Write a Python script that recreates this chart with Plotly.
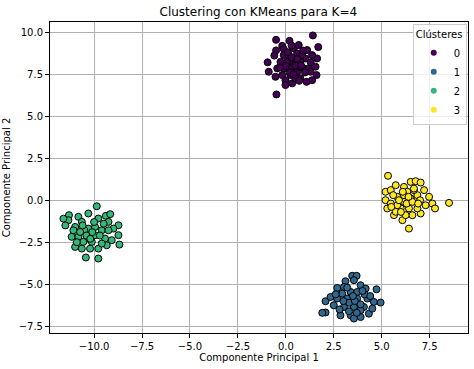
import plotly.graph_objects as go

title = "Clustering con KMeans para K=4"
xlabel = "Componente Principal 1"
ylabel = "Componente Principal 2"
legend_title = "Clústeres"
cluster_names = ["0", "1", "2", "3"]
colors = ["#440154", "#31688e", "#35b779", "#fde725"]

x0 = [-0.51, 0.19, 1.41, 1.69, -0.51, -0.19, -0.11, -0.95, -0.89, -0.45, -0.49, -0.54, -0.11, 0.41, 0.67,
      1.11, 1.02, 1.63, 1.55, 1.60, 1.37, 1.08, 0.76, -0.02, -0.02, 0.33, 0.24, 0.59, 0.94, -0.11, 0.07,
      0.41, 0.76, 1.20, 0.41, 0.15, 0.59, 0.85, -0.28, 0.24, 0.67, 1.37, -0.19, 0.50, 1.29,
      0.3, 0.5, 0.0, 0.8, 0.2, 0.6, -0.3, 1.0, 0.4, 0.9, 0.3, -0.6, 1.3, 0.1, 0.7]
y0 = [9.54, 9.48, 9.80, 9.11, 8.91, 9.18, 8.99, 8.20, 7.64, 7.84, 6.29, 7.34, 8.63, 9.03, 9.23,
      8.93, 8.43, 8.43, 7.94, 7.44, 7.14, 7.04, 7.24, 7.14, 6.85, 6.95, 7.44, 7.64, 7.84, 7.84, 8.23,
      8.43, 8.23, 7.84, 8.04, 8.63, 8.73, 8.63, 8.23, 7.84, 7.94, 8.63, 7.44, 7.24, 7.64,
      8.5, 8.0, 8.0, 8.0, 7.6, 8.4, 7.9, 7.6, 7.5, 8.9, 9.2, 8.6, 8.2, 8.8, 7.1]

x1 = [3.46, 3.69, 3.11, 3.55, 2.68, 3.03, 3.90, 4.16, 4.73, 2.07, 2.33, 2.07, 2.85, 3.38, 3.90, 4.33,
      4.94, 4.59, 4.25, 3.72, 3.20, 2.68, 2.50, 3.03, 3.55, 4.07, 4.51, 3.38, 3.72, 2.94, 3.90, 3.29, 3.55,
      1.9, 3.3, 3.6, 3.9, 4.1, 3.0, 3.5, 2.8, 4.4, 3.2, 3.7, 4.0, 2.6]
y1 = [-4.50, -4.50, -4.82, -4.76, -5.22, -5.16, -5.06, -5.26, -5.30, -6.01, -5.76, -6.68, -6.85, -6.85,
      -6.95, -6.75, -6.09, -6.05, -5.85, -5.85, -5.85, -5.85, -6.25, -6.35, -6.35, -6.35, -6.45, -5.46,
      -5.46, -5.56, -6.55, -6.61, -7.04,
      -6.7, -6.1, -6.0, -6.2, -5.6, -6.0, -5.7, -6.5, -5.7, -5.2, -6.7, -5.4, -5.6]

x2 = [-9.86, -11.31, -11.34, -10.82, -10.30, -9.78, -9.39, -9.16, -9.25, -8.73, -8.99, -8.73, -8.68,
      -9.34, -9.78, -10.43, -10.99, -11.17, -10.64, -10.21, -9.78, -9.43, -9.95, -10.30, -10.64, -10.99,
      -10.82, -10.38, -9.95, -9.60, -9.25, -10.56, -10.12, -9.60, -9.08, -11.08, -10.51, -10.73,
      -11.6, -11.5, -10.1, -10.4, -9.7, -10.9, -10.0, -9.5, -10.6, -10.2]
y2 = [-0.36, -0.89, -1.19, -0.99, -0.79, -1.09, -0.93, -0.83, -1.29, -1.49, -1.69, -2.08, -2.64, -2.68,
      -3.47, -3.41, -2.78, -2.18, -2.88, -2.88, -2.88, -2.28, -2.08, -1.69, -1.29, -1.59, -2.18, -2.28,
      -1.59, -1.79, -1.79, -2.48, -2.48, -2.58, -2.38, -1.79, -1.79, -1.89,
      -1.1, -1.5, -1.9, -2.1, -2.1, -2.5, -1.3, -1.4, -1.5, -2.3]

x3 = [5.33, 8.51, 6.42, 5.20, 5.47, 5.73, 6.16, 6.51, 6.77, 7.03, 7.21, 7.47, 7.64, 7.78, 7.29, 7.03,
      6.60, 6.08, 5.64, 5.29, 5.20, 5.81, 6.16, 6.51, 6.86, 6.34, 6.68, 5.99, 6.42, 6.86, 5.47, 5.81,
      5.73, 6.25, 6.68, 6.16,
      5.9, 6.3, 6.0, 5.6, 6.6, 7.0, 6.4, 5.5, 6.1, 6.9]
y3 = [1.45, -0.16, -1.69, 0.50, 0.60, 0.89, 0.79, 1.09, 1.13, 1.05, 0.60, 0.20, -0.20, -0.49, -0.30,
      -0.79, -0.89, -1.19, -0.89, -0.49, 0.00, 0.20, -0.10, 0.10, 0.30, 0.50, 0.60, -0.49, -0.49, -0.49,
      -0.20, -0.30, -0.69, -0.89, 0.69, 0.30,
      0.0, -0.2, -0.7, 0.3, -0.1, 0.0, 0.2, -0.4, 0.5, -0.2]

xs = [x0, x1, x2, x3]
ys = [y0, y1, y2, y3]

fig = go.Figure()
for name, c, xv, yv in zip(cluster_names, colors, xs, ys):
    fig.add_trace(go.Scatter(
        x=xv, y=yv, mode="markers", name=name, showlegend=False,
        marker=dict(color=c, size=7, line=dict(color="black", width=1)),
    ))
# legend entries (small plain dots, like the reference legend)
for name, c in zip(cluster_names, colors):
    fig.add_trace(go.Scatter(
        x=[None], y=[None], mode="markers", name=name, showlegend=True,
        marker=dict(color=c, size=6, line=dict(width=0)),
    ))

axis_common = dict(
    showgrid=True, gridcolor="#b0b0b0", gridwidth=1,
    zeroline=False, showline=True, linecolor="black", linewidth=1, mirror=True,
    ticks="outside", ticklen=4, tickcolor="black", tickformat=".1f",
    tickfont=dict(size=10, color="black"), automargin=False,
)

fig.update_layout(
    width=474, height=369,
    margin=dict(l=50, r=6, t=22, b=36),
    paper_bgcolor="white", plot_bgcolor="white",
    font=dict(family="DejaVu Sans", color="black"),
    title=dict(text=title, x=0.545, xanchor="center", y=0.967, yanchor="middle",
               font=dict(size=12, color="black")),
    xaxis=dict(range=[-12.3, 9.5], dtick=2.5, tick0=0,
               title=dict(text=xlabel, font=dict(size=10), standoff=2), **axis_common),
    yaxis=dict(range=[-7.9, 10.6], dtick=2.5, tick0=0,
               title=dict(text=ylabel, font=dict(size=10), standoff=6), **axis_common),
    legend=dict(title=dict(text=legend_title, font=dict(size=10), side="top"),
                x=0.997, y=0.993, xanchor="right", yanchor="top",
                bgcolor="rgba(255,255,255,0.8)", bordercolor="#cccccc", borderwidth=1,
                font=dict(size=10), tracegroupgap=0, itemwidth=30),
    showlegend=True,
)

fig.write_html("out.html", config={"displayModeBar": False},
               post_script="document.body.style.margin='0';")
